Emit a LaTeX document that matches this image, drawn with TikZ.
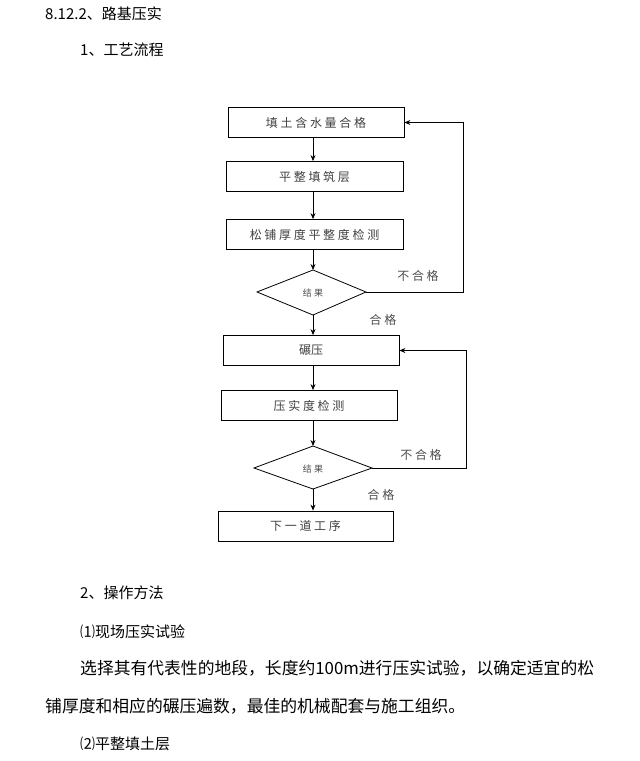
\documentclass[tikz,border=0pt]{standalone}
\usepackage{fontspec}
\setmainfont{Noto Sans CJK SC}
\usetikzlibrary{arrows.meta}
\begin{document}
\begin{tikzpicture}[x=1pt,y=-1pt,
  box/.style={draw,thick,minimum height=30pt,inner sep=0pt,font=\fontsize{12}{13}\selectfont,text=black!75},
  dia/.style={draw,thick},
  lab/.style={font=\fontsize{12}{13}\selectfont,text=black!70},
  txt/.style={anchor=west,inner sep=0pt,font=\fontsize{15}{16}\selectfont},
  par/.style={anchor=west,inner sep=0pt,font=\fontsize{16.8}{18}\selectfont},
  arr/.style={-{Stealth[length=6pt,width=5pt]},thick}]
\useasboundingbox (0,0) rectangle (640,761);
\node[txt] (t1) at (45,14) {8.12.2、路基压实};
\node[txt] (t2) at (80,50) {1、工艺流程};
\node[box,minimum width=176pt] (b1) at (316,122.5) {填 土 含 水 量 合 格};
\node[box,minimum width=177pt] (b2) at (314.5,176.5) {平 整 填 筑 层};
\node[box,minimum width=177pt] (b3) at (314.5,234.5) {松 铺 厚 度 平 整 度 检 测};
\coordinate (d1t) at (313,270); \coordinate (d1b) at (313,315);
\coordinate (d1l) at (257,292); \coordinate (d1r) at (366,292);
\draw[dia] (d1t)--(d1r)--(d1b)--(d1l)--cycle;
\node[lab,font=\fontsize{9}{10}\selectfont] (d1) at (313,293) {结 果};
\node[box,minimum width=176pt] (b4) at (311,350.5) {碾压};
\node[box,minimum width=176pt] (b5) at (309,405.5) {压 实 度 检 测};
\coordinate (d2t) at (313,446); \coordinate (d2b) at (313,489);
\coordinate (d2l) at (254,468); \coordinate (d2r) at (372,468);
\draw[dia] (d2t)--(d2r)--(d2b)--(d2l)--cycle;
\node[lab,font=\fontsize{9}{10}\selectfont] (d2) at (313,469) {结 果};
\node[box,minimum width=175pt] (b6) at (305.5,526) {下 一 道 工 序};
\draw[arr] (b1.south-|313,0) -- (b2.north-|313,0);
\draw[arr] (b2.south-|313,0) -- (b3.north-|313,0);
\draw[arr] (b3.south-|313,0) -- (d1t);
\draw[arr] (d1b) -- (b4.north-|313,0);
\draw[arr] (b4.south-|313,0) -- (b5.north-|313,0);
\draw[arr] (b5.south-|313,0) -- (d2t);
\draw[arr] (d2b) -- (b6.north-|313,0);
\draw[arr] (d1r) -- (463,292) -- (463,122.5) -- (b1.east);
\draw[arr] (d2r) -- (466,468) -- (466,350.5) -- (b4.east);
\node[lab] (n1) at (418,276) {不 合 格};
\node[lab] (y1) at (383,320) {合 格};
\node[lab] (n2) at (421,455) {不 合 格};
\node[lab] (y2) at (381,495) {合 格};
\node[txt] (t3) at (80,593) {2、操作方法};
\node[txt] (t4) at (80,632) {⑴现场压实试验};
\node[par] (t5) at (80,668) {选择其有代表性的地段，长度约100m进行压实试验，以确定适宜的松};
\node[par] (t6) at (45,706) {铺厚度和相应的碾压遍数，最佳的机械配套与施工组织。};
\node[txt] (t7) at (80,744) {⑵平整填土层};
\end{tikzpicture}
\end{document}
